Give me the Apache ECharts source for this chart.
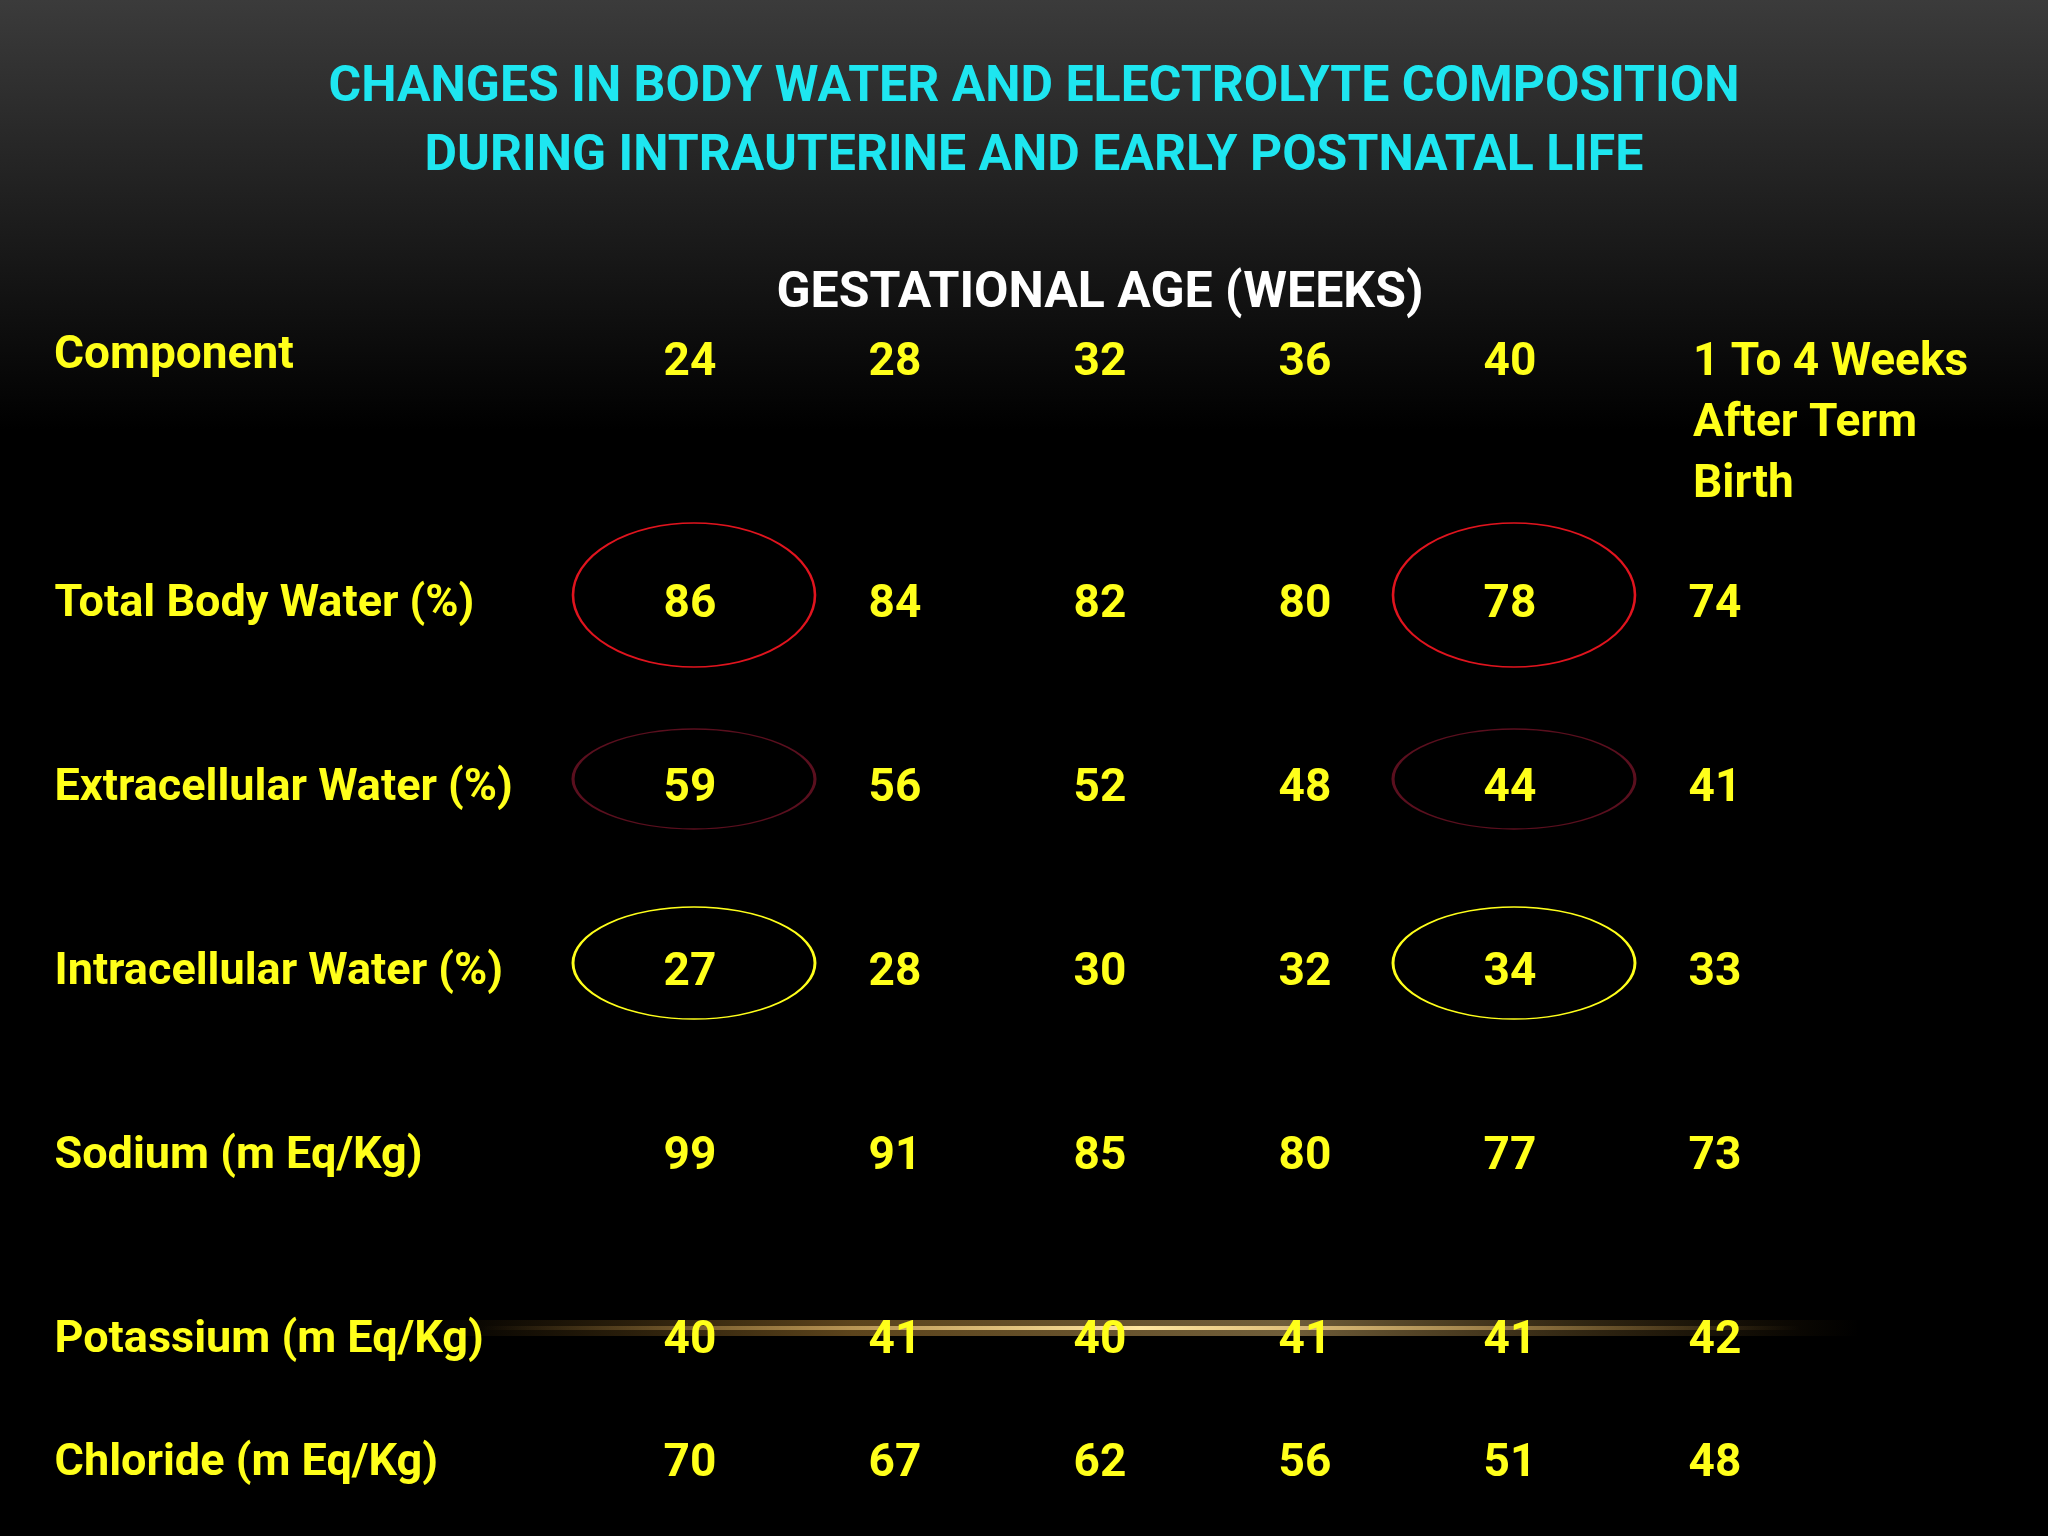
<!DOCTYPE html><html><head><meta charset="utf-8">
<script src="https://cdn.jsdelivr.net/npm/echarts@6/dist/echarts.min.js"></script>
<style>html,body{margin:0;padding:0;background:#000}#c{width:2048px;height:1536px}</style></head><body><div id="c"></div>
<script>
const titleLines=['CHANGES IN BODY WATER AND ELECTROLYTE COMPOSITION','DURING INTRAUTERINE AND EARLY POSTNATAL LIFE'];
const axisTitle='GESTATIONAL AGE (WEEKS)';
const columns=['24','28','32','36','40','1 To 4 Weeks\nAfter Term\nBirth'];
const rows=['Total Body Water (%)','Extracellular Water (%)','Intracellular Water (%)','Sodium (m Eq/Kg)','Potassium (m Eq/Kg)','Chloride (m Eq/Kg)'];
const totalBodyWater=[86,84,82,80,78,74];
const extracellularWater=[59,56,52,48,44,41];
const intracellularWater=[27,28,30,32,34,33];
const sodium=[99,91,85,80,77,73];
const potassium=[40,41,40,41,41,42];
const chloride=[70,67,62,56,51,48];
const rowValues=[totalBodyWater,extracellularWater,intracellularWater,sodium,potassium,chloride];
const highlights=[[0,0,'#e0141e'],[0,4,'#e0141e'],[1,0,'#5a0f1e'],[1,4,'#5a0f1e'],[2,0,'#ffff1a'],[2,4,'#ffff1a']];
const FONT='"Liberation Sans Narrow","Roboto",sans-serif';
const YEL='#ffff1a';
const chart=echarts.init(document.getElementById('c'));
const series=rowValues.map((vals,r)=>({type:'scatter',symbolSize:1,itemStyle:{color:'transparent',opacity:1},
 data:vals.map((v,i)=>[i,r,v]),
 label:{show:true,position:'inside',formatter:p=>p.value[2],color:YEL,opacity:1,fontFamily:FONT,fontWeight:'bold',fontSize:46,
   offset:[0,r===5?-61:0]}}));
series.unshift({type:'scatter',silent:true,z:1,
 data:highlights.map(h=>({value:[h[1],h[0]],symbolSize:h[0]===0?[242,144]:(h[0]===1?[242,100]:[242,112]),
   itemStyle:{color:'transparent',borderColor:h[2],borderWidth:2,opacity:1}})),
 symbol:'circle',symbolOffset:[4,-10]});
const headerG=columns.map((c,i)=>{const last=i===5;return {type:'text',
  x: last?1693:(690+205*i), y:333,
  style:{text:c,fill:YEL,font:'bold 46px '+FONT,align:last?'left':'center',verticalAlign:'top',lineHeight:61}};});
chart.setOption({
 backgroundColor:{type:'linear',x:0,y:0,x2:0,y2:1,colorStops:[{offset:0,color:'#3b3b3b'},{offset:0.28,color:'#000'},{offset:1,color:'#000'}]},
 grid:{left:587.5,width:1230,top:605,height:920},
 xAxis:{type:'value',min:-0.5,max:5.5,show:false},
 yAxis:{type:'value',inverse:true,min:0,max:5,interval:1,axisLine:{show:false},axisTick:{show:false},splitLine:{show:false},
   axisLabel:{align:'left',margin:533,color:YEL,fontFamily:FONT,fontWeight:'bold',fontSize:45,
     formatter:(v)=>v===5?'{s|'+rows[v]+'}':rows[v],rich:{s:{padding:[0,0,122,0],color:YEL,fontFamily:FONT,fontWeight:'bold',fontSize:45}}}},
 graphic:[
  {type:'rect',shape:{x:420,y:1320,width:1440,height:16},style:{fill:{type:'linear',x:0,y:0,x2:1,y2:0,colorStops:[{offset:0,color:'rgba(200,140,40,0)'},{offset:0.3,color:'rgba(230,170,70,0.8)'},{offset:0.6,color:'rgba(250,210,130,0.9)'},{offset:1,color:'rgba(200,140,40,0)'}]},opacity:0.5},z:-1},
  {type:'rect',shape:{x:480,y:1326,width:1320,height:4},style:{fill:{type:'linear',x:0,y:0,x2:1,y2:0,colorStops:[{offset:0,color:'rgba(255,190,90,0)'},{offset:0.5,color:'rgba(255,230,160,1)'},{offset:1,color:'rgba(255,190,90,0)'}]}},z:-1},
  {type:'text',x:1034,y:88,style:{text:titleLines[0],fill:'#1ee6f0',font:'bold 50px '+FONT,align:'center',verticalAlign:'middle'}},
  {type:'text',x:1034,y:157,style:{text:titleLines[1],fill:'#1ee6f0',font:'bold 50px '+FONT,align:'center',verticalAlign:'middle'}},
  {type:'text',x:1100,y:294,style:{text:axisTitle,fill:'#ffffff',font:'bold 50px '+FONT,align:'center',verticalAlign:'middle'}},
  {type:'text',x:54,y:333,style:{text:'Component',fill:YEL,font:'bold 46px '+FONT,align:'left',verticalAlign:'top'}},
  ...headerG],
 series});
</script></body></html>
